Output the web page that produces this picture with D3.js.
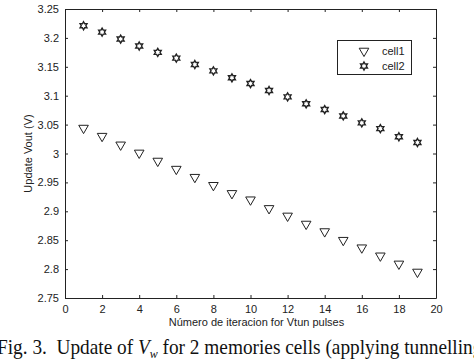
<!DOCTYPE html>
<html><head><meta charset="utf-8">
<script src="https://cdn.jsdelivr.net/npm/d3@7"></script>
<style>body{margin:0;background:#fff;} svg{display:block;}</style>
</head><body>
<svg id="c" width="474" height="359"></svg>
<script>
const iterations = [1,2,3,4,5,6,7,8,9,10,11,12,13,14,15,16,17,18,19];
const cell1 = [3.044,3.030,3.015,3.001,2.987,2.973,2.959,2.945,2.931,2.920,2.905,2.892,2.878,2.865,2.850,2.837,2.823,2.809,2.795];
const cell2 = [3.221,3.210,3.198,3.186,3.175,3.165,3.154,3.143,3.131,3.121,3.109,3.098,3.086,3.076,3.065,3.053,3.043,3.029,3.019];
const xTicks = [0,2,4,6,8,10,12,14,16,18,20];
const yTicks = [2.75,2.8,2.85,2.9,2.95,3,3.05,3.1,3.15,3.2,3.25];
const seriesNames = ["cell1","cell2"];

const svg = d3.select("#c");
const L=65, R=436, T=9, B=298;
const x = d3.scaleLinear().domain([0,20]).range([L,R]);
const y = d3.scaleLinear().domain([2.75,3.25]).range([B,T]);
const font = "Liberation Sans, Arial, sans-serif";

// axes
const ax = svg.append("g").attr("transform",`translate(0,${B})`)
  .call(d3.axisBottom(x).tickValues(xTicks).tickSizeInner(-3).tickSizeOuter(0).tickPadding(7).tickFormat(d3.format("d")));
const axT = svg.append("g").attr("transform",`translate(0,${T})`)
  .call(d3.axisTop(x).tickValues(xTicks).tickSizeInner(-3).tickSizeOuter(0).tickFormat(""));
const ay = svg.append("g").attr("transform",`translate(${L},0)`)
  .call(d3.axisLeft(y).tickValues(yTicks).tickSizeInner(-3).tickSizeOuter(0).tickPadding(6).tickFormat(d=>d3.format("")(+d.toFixed(2))));
const ayR = svg.append("g").attr("transform",`translate(${R},0)`)
  .call(d3.axisRight(y).tickValues(yTicks).tickSizeInner(-3).tickSizeOuter(0).tickFormat(""));
[ax,axT,ay,ayR].forEach(g=>{
  g.selectAll("path,line").attr("stroke","#222").attr("stroke-width",1);
  g.selectAll("text").attr("font-family",font).attr("font-size",11).attr("fill","#222");
});

// labels
svg.append("text").attr("x",(L+R)/2+6).attr("y",326).attr("text-anchor","middle")
  .attr("font-family",font).attr("font-size",11).attr("fill","#222")
  .text("Número de iteracion for Vtun pulses");
svg.append("text").attr("transform",`translate(32,${(T+B)/2}) rotate(-90)`).attr("text-anchor","middle")
  .attr("font-family",font).attr("font-size",11).attr("fill","#222")
  .text("Update Vout (V)");

// markers
const tri = d3.symbol().type(d3.symbolTriangle).size(40);
function hexagram(r){
  let p=[];
  for(let i=0;i<12;i++){
    const a = Math.PI/6*i - Math.PI/2;
    const rr = i%2===0 ? r : r*0.577;
    p.push([rr*Math.cos(a), rr*Math.sin(a)]);
  }
  return "M"+p.map(q=>q[0].toFixed(2)+","+q[1].toFixed(2)).join("L")+"Z";
}
svg.append("g").selectAll("path").data(iterations.map((d,i)=>[d,cell1[i]])).join("path")
  .attr("d",tri).attr("transform",d=>`translate(${x(d[0])},${y(d[1])}) rotate(180)`)
  .attr("fill","none").attr("stroke","#222").attr("stroke-width",1);
svg.append("g").selectAll("path").data(iterations.map((d,i)=>[d,cell2[i]])).join("path")
  .attr("d",hexagram(4)).attr("transform",d=>`translate(${x(d[0])},${y(d[1])})`)
  .attr("fill","none").attr("stroke","#222").attr("stroke-width",1.4);

// legend
const lg = svg.append("g");
lg.append("rect").attr("x",337.5).attr("y",40.5).attr("width",74).attr("height",34)
  .attr("fill","#fff").attr("stroke","#222");
lg.append("path").attr("d",tri).attr("transform","translate(364,51) rotate(180)")
  .attr("fill","none").attr("stroke","#222");
lg.append("path").attr("d",hexagram(4)).attr("transform","translate(364,66)")
  .attr("fill","none").attr("stroke","#222").attr("stroke-width",1.4);
lg.selectAll("text.l").data(seriesNames).join("text").attr("class","l")
  .attr("x",382).attr("y",(d,i)=>55+i*15).attr("font-family",font).attr("font-size",11).attr("fill","#222")
  .text(d=>d);

// caption
const cap = svg.append("text").attr("transform","translate(-3,354) scale(1,1.08)")
  .attr("font-family","Liberation Serif, Times New Roman, serif")
  .attr("font-size",19.3).attr("fill","#111").style("white-space","pre");
cap.append("tspan").text("Fig. 3.  Update of ");
cap.append("tspan").attr("font-style","italic").text("V");
cap.append("tspan").attr("font-style","italic").attr("font-size",12).attr("dy",4).text("w");
cap.append("tspan").attr("dy",-4).text(" for 2 memories cells (applying tunnelling");
</script>
</body></html>
